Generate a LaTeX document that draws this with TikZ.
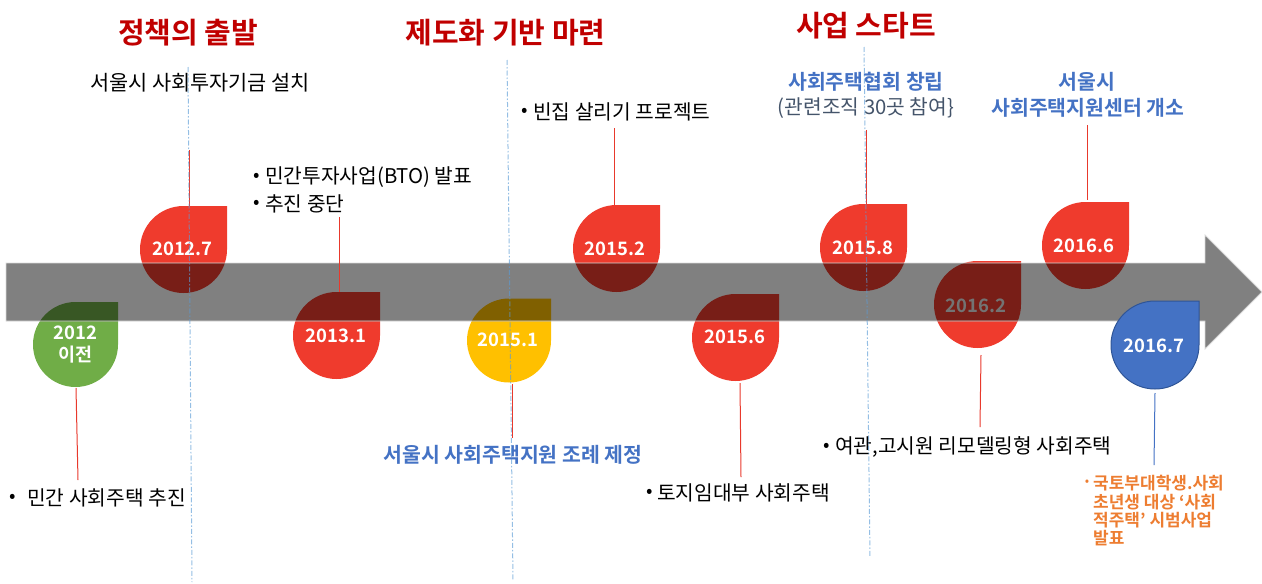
\documentclass[tikz,border=0pt]{standalone}
\usepackage{fontspec}
\setmainfont{Noto Sans CJK KR}[BoldFont={Noto Sans CJK KR Bold}]
\definecolor{dropred}{HTML}{EF3B2D}
\definecolor{dropreddk}{HTML}{781E17}
\definecolor{dropgreen}{HTML}{70AD47}
\definecolor{dropgreendk}{HTML}{385724}
\definecolor{dropyel}{HTML}{FFC000}
\definecolor{dropyeldk}{HTML}{806000}
\definecolor{dropblue}{HTML}{4472C4}
\definecolor{dropbluedk}{HTML}{2F5597}
\definecolor{titlered}{HTML}{C00000}
\definecolor{txtblue}{HTML}{4472C4}
\definecolor{txtgray}{HTML}{44546A}
\definecolor{txtorange}{HTML}{ED7D31}
\definecolor{arrowgray}{HTML}{808080}
\definecolor{guideblue}{HTML}{5B9BD5}
\definecolor{connred}{HTML}{E8392C}
\newcommand\myfs[1]{\fontsize{#1}{#1}\selectfont}
\newcommand\dropfill[4]{% style, cx, cy, r
  \fill[#1] (#2,#3-#4) -- (#2+#4,#3-#4) -- (#2+#4,#3) arc[start angle=0,end angle=270,radius=#4] -- cycle;}
\tikzset{
  titletxt/.style={inner sep=0pt, text=titlered, font=\myfs{29pt}\bfseries},
  blacktxt/.style={inner sep=0pt, text=black, font=\myfs{20.3pt}},
  bluetxt/.style={inner sep=0pt, text=txtblue, font=\myfs{20.5pt}\bfseries},
  orangetxt/.style={inner sep=0pt, anchor=west, text=txtorange, font=\myfs{17pt}\bfseries},
  datetxt/.style={inner sep=0pt, text=white, font=\myfs{18.5pt}\bfseries},
  bul/.style={inner sep=0pt, font=\myfs{19pt}},
  conn/.style={draw=connred, line width=1pt},
  guide/.style={draw=guideblue, opacity=0.65, line width=1pt, dash pattern=on 5pt off 2pt on 1.5pt off 2pt},
}
\begin{document}
\begin{tikzpicture}[x=1pt,y=-1pt]
\useasboundingbox (0,0) rectangle (1262,584);
% drops (light)
\dropfill{dropgreen}{75.5}{344.5}{42.5}
\dropfill{dropred}{183.5}{249.5}{43.5}
\dropfill{dropred}{336.5}{335.5}{43.5}
\dropfill{dropyel}{509}{340.5}{42}
\dropfill{dropred}{616.5}{248.5}{43.5}
\dropfill{dropred}{735.5}{337.5}{43.5}
\dropfill{dropred}{863.5}{247.5}{43.5}
\dropfill{dropred}{977.5}{304.5}{43.5}
\dropfill{dropred}{1085.5}{245.5}{43.5}
% arrow
\fill[arrowgray] (6,263) -- (1205,263) -- (1205,235) -- (1262,292) -- (1205,349) -- (1205,321) -- (6,321) -- cycle;
% overlap (multiply look)
\begin{scope}
\clip (6,263) -- (1205,263) -- (1205,235) -- (1262,292) -- (1205,349) -- (1205,321) -- (6,321) -- cycle;
\dropfill{dropgreendk}{75.5}{344.5}{42.5}
\dropfill{dropreddk}{183.5}{249.5}{43.5}
\dropfill{dropreddk}{336.5}{335.5}{43.5}
\dropfill{dropyeldk}{509}{340.5}{42}
\dropfill{dropreddk}{616.5}{248.5}{43.5}
\dropfill{dropreddk}{735.5}{337.5}{43.5}
\dropfill{dropreddk}{863.5}{247.5}{43.5}
\dropfill{dropreddk}{977.5}{304.5}{43.5}
\dropfill{dropreddk}{1085.5}{245.5}{43.5}
\end{scope}
\draw[white!85!black, line width=0.8pt] (6,263) -- (1205,263) -- (1205,235) -- (1262,292) -- (1205,349) -- (1205,321) -- (6,321) -- cycle;
% blue drop on top
\filldraw[fill=dropblue, draw=dropbluedk, line width=1pt] (1155,301) -- (1199,301) -- (1199,345) arc[start angle=0,end angle=270,radius=44] -- cycle;

% date labels
\node[datetxt] (d0a) at (75.5,333) {2012};
\node[datetxt] (d0b) at (75.5,355) {이전};
\node[datetxt] (d1) at (182.5,249) {2012.7};
\node[datetxt] (d2) at (335.7,336) {2013.1};
\node[datetxt] (d3) at (508,340) {2015.1};
\node[datetxt] (d4) at (614.8,249) {2015.2};
\node[datetxt] (d5) at (734.8,336.7) {2015.6};
\node[datetxt] (d6) at (863,247.7) {2015.8};
\node[datetxt, text=arrowgray!90!black] (d7) at (975.8,306) {2016.2};
\node[datetxt] (d8) at (1084,246) {2016.6};
\node[datetxt] (d9) at (1153.8,345.7) {2016.7};

% titles
\node[titletxt] (t1) at (188,33) {정책의 출발};
\node[titletxt] (t2) at (505.5,33) {제도화 기반 마련};
\node[titletxt] (t3) at (866,26) {사업 스타트};

% black texts
\node[blacktxt, font=\myfs{20.8pt}] (e1) at (200,83) {서울시 사회투자기금 설치};
\node[bul] (b2a) at (257,177) {•};
\node[blacktxt, anchor=west] (e2a) at (265,177) {민간투자사업(BTO) 발표};
\node[bul] (b2b) at (257,204) {•};
\node[blacktxt, anchor=west] (e2b) at (265,204) {추진 중단};
\node[bul] (b4) at (525,112) {•};
\node[blacktxt, anchor=west] (e4) at (533,112) {빈집 살리기 프로젝트};
\node[bul] (b0) at (13,498) {•};
\node[blacktxt, anchor=west] (e0) at (27,498) {민간 사회주택 추진};
\node[bul] (b5) at (650,493) {•};
\node[blacktxt, anchor=west] (e5) at (657,493) {토지임대부 사회주택};
\node[bul] (b7) at (827,447) {•};
\node[blacktxt, anchor=west] (e7) at (835,447) {여관,고시원 리모델링형 사회주택};

% blue texts
\node[bluetxt] (e6a) at (866,82) {사회주택협회 창립};
\node[blacktxt, text=txtgray] (e6b) at (866,108) {(관련조직 30곳 참여\}};
\node[bluetxt] (e8a) at (1087,82) {서울시};
\node[bluetxt] (e8b) at (1088,108) {사회주택지원센터 개소};
\node[bluetxt] (e3) at (513,455) {서울시 사회주택지원 조례 제정};

% orange texts
\node[inner sep=0pt, text=txtorange, font=\myfs{13pt}] (b9) at (1087,483) {•};
\node[orangetxt] (e9a) at (1093,483) {국토부대학생.사회};
\node[orangetxt] (e9b) at (1093,502) {초년생 대상 ‘사회};
\node[orangetxt] (e9c) at (1093,520) {적주택’ 시범사업};
\node[orangetxt] (e9d) at (1093,538) {발표};

% connectors
\coordinate (c0a) at (76,388);  \coordinate (c0b) at (78,480);
\coordinate (c1a) at (189,150); \coordinate (c1b) at (189,206);
\coordinate (c2a) at (339,217); \coordinate (c2b) at (339,292);
\coordinate (c3a) at (512,384); \coordinate (c3b) at (512,438);
\coordinate (c4a) at (614,128); \coordinate (c4b) at (614,205);
\coordinate (c5a) at (740,383); \coordinate (c5b) at (741,477);
\coordinate (c6a) at (866,130); \coordinate (c6b) at (866,204);
\coordinate (c7a) at (981,355); \coordinate (c7b) at (980,427);
\coordinate (c8a) at (1087,125); \coordinate (c8b) at (1087,200);
\coordinate (c9a) at (1155,393); \coordinate (c9b) at (1154,465);
\draw[conn] (c0a) -- (c0b);
\draw[conn] (c1a) -- (c1b);
\draw[conn] (c2a) -- (c2b);
\draw[conn] (c3a) -- (c3b);
\draw[conn] (c4a) -- (c4b);
\draw[conn] (c5a) -- (c5b);
\draw[conn] (c6a) -- (c6b);
\draw[conn] (c7a) -- (c7b);
\draw[conn] (c8a) -- (c8b);
\draw[draw=txtblue, line width=1pt] (c9a) -- (c9b);

% guide lines
\coordinate (g1a) at (188,67);  \coordinate (g1b) at (192,582);
\coordinate (g2a) at (507,60);  \coordinate (g2b) at (513,580);
\coordinate (g3a) at (864,47);  \coordinate (g3b) at (870,557);
\draw[guide] (g1a) -- (g1b);
\draw[guide] (g2a) -- (g2b);
\draw[guide] (g3a) -- (g3b);
\end{tikzpicture}
\end{document}
